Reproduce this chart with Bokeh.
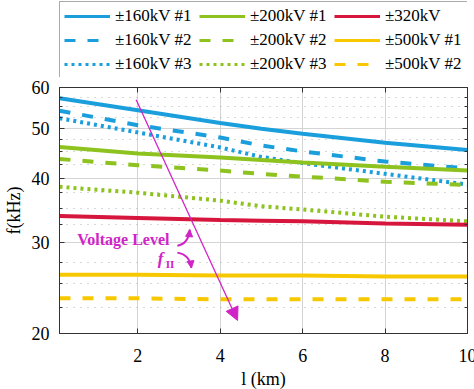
from bokeh.plotting import figure
from bokeh.layouts import column
from bokeh.models import (FixedTicker, Legend, LegendItem, LinearAxis, LogAxis, Arrow,
                          NormalHead, Range1d, BasicTickFormatter)
from bokeh.core.properties import value
from bokeh.embed import file_html
from bokeh.resources import INLINE

# ---- data ----
l_km = [0.1, 2, 4, 5, 6, 8, 10]
f_160_1 = [57.2, 54.2, 51.2, 49.9, 48.8, 46.9, 45.4]
f_160_2 = [54.1, 50.7, 48.0, 46.3, 45.1, 43.1, 41.8]
f_160_3 = [52.3, 49.1, 45.9, 44.0, 42.8, 40.8, 38.9]
f_200_1 = [46.0, 44.7, 43.9, 43.4, 42.9, 42.1, 41.4]
f_200_2 = [43.6, 42.4, 41.4, 40.8, 40.3, 39.4, 38.8]
f_200_3 = [38.5, 37.5, 36.2, 35.3, 34.8, 33.7, 33.0]
f_320 = [33.8, 33.5, 33.2, 33.1, 33.0, 32.7, 32.5]
f_500_1 = [26.0, 26.0, 25.9, 25.9, 25.9, 25.8, 25.8]
f_500_2 = [23.4, 23.4, 23.3, 23.3, 23.3, 23.3, 23.3]

series_names = ["±160kV #1", "±160kV #2", "±160kV #3",
                "±200kV #1", "±200kV #2", "±200kV #3",
                "±320kV", "±500kV #1", "±500kV #2"]
series_values = [f_160_1, f_160_2, f_160_3, f_200_1, f_200_2, f_200_3,
                 f_320, f_500_1, f_500_2]

x_ticks = [2, 4, 6, 8, 10]
y_major = [20, 30, 40, 50, 60]
y_minor = [22.5, 25, 27.5, 32.5, 35, 37.5, 42.5, 45, 47.5, 52.5, 55, 57.5]

# annotation anchors (data coordinates)
trend_l = [1.96, 4.42]
trend_f = [56.8, 21.2]
note_text = "Voltage Level"
note_pos = (1.65, 30.5)
fii_pos = (2.55, 27.9)
sub_pos = (2.78, 27.3)
curve_up = dict(x0=2.96, y0=29.6, cx=3.23, cy=29.85, x1=3.26, y1=31.8)
curve_dn = dict(x0=2.96, y0=28.7, cx=3.26, cy=28.45, x1=3.30, y1=26.8)

# ---- styles ----
BLUE = "#1b9fdc"
GREEN = "#8dc21f"
RED = "#d6163c"
YELLOW = "#f7c800"
MAG = "#d024c6"
colors = [BLUE, BLUE, BLUE, GREEN, GREEN, GREEN, RED, YELLOW, YELLOW]
dashes = ["solid", "11 12", "3 4", "solid", "11 12", "3 4", "solid", "solid", "11 12"]
FONT = "Liberation Serif"

# ---------------- main plot ----------------
p = figure(frame_width=408, frame_height=246, output_backend="svg", toolbar_location=None,
           y_axis_type="log", x_range=Range1d(0.1, 10), y_range=Range1d(20, 60),
           min_border_left=55, min_border_right=11, min_border_top=10, min_border_bottom=56)
p.outline_line_color = "#333333"

for vals, c, d in zip(series_values, colors, dashes):
    p.line(l_km, vals, line_color=c, line_width=4, line_dash=d, line_cap="butt")

yt = FixedTicker(ticks=y_major, minor_ticks=y_minor)
xt = FixedTicker(ticks=x_ticks, minor_ticks=[])
p.yaxis.ticker = yt
p.yaxis.formatter = BasicTickFormatter()
p.xaxis.ticker = xt
p.ygrid.ticker = yt
p.xgrid.ticker = xt

for ax in (p.xaxis[0], p.yaxis[0]):
    ax.axis_line_color = "#333333"
    ax.major_tick_line_color = "#333333"
    ax.minor_tick_line_color = "#333333"
    ax.major_tick_in = 5
    ax.major_tick_out = 0
    ax.minor_tick_in = 3
    ax.minor_tick_out = 0
    ax.major_label_text_font = FONT
    ax.major_label_text_font_size = "18px"
    ax.major_label_text_color = "black"
    ax.axis_label_text_font = FONT
    ax.axis_label_text_font_size = "18px"
    ax.axis_label_text_font_style = "normal"
    ax.axis_label_text_color = "black"

p.xaxis.axis_label = "l (km)"
p.yaxis.axis_label = "f(kHz)"
p.xaxis.major_label_standoff = 15
p.xaxis.axis_label_standoff = 4
p.yaxis.major_label_standoff = 10
p.yaxis.axis_label_standoff = 5

top_ax = LinearAxis(ticker=xt, major_label_text_font_size="0px", major_tick_in=5,
                    major_tick_out=0, minor_tick_out=0, major_label_standoff=0,
                    axis_line_color="#333333", major_tick_line_color="#333333")
right_ax = LogAxis(ticker=yt, major_label_text_font_size="0px", major_tick_in=5,
                   major_tick_out=0, minor_tick_in=3, minor_tick_out=0,
                   major_label_standoff=0, axis_line_color="#333333",
                   major_tick_line_color="#333333", minor_tick_line_color="#333333")
p.add_layout(top_ax, "above")
p.add_layout(right_ax, "right")

p.xgrid.grid_line_color = "#d4d4d4"
p.ygrid.grid_line_color = "#d4d4d4"
p.ygrid.minor_grid_line_color = "#b0b0b0"
p.ygrid.minor_grid_line_dash = "1 6"
p.ygrid.minor_grid_line_width = 1.2

p.add_layout(Arrow(end=NormalHead(size=13, fill_color=MAG, line_color=MAG),
                   x_start=trend_l[0], y_start=trend_f[0], x_end=trend_l[1], y_end=trend_f[1],
                   line_color=MAG, line_width=1.3))
for cv in (curve_up, curve_dn):
    p.quadratic(x0=[cv["x0"]], y0=[cv["y0"]], x1=[cv["x1"]], y1=[cv["y1"]],
                cx=[cv["cx"]], cy=[cv["cy"]], line_color=MAG, line_width=2)
    p.add_layout(Arrow(end=NormalHead(size=7, fill_color=MAG, line_color=MAG),
                       x_start=cv["cx"], y_start=cv["cy"], x_end=cv["x1"], y_end=cv["y1"],
                       line_color=None))

p.text(x=[note_pos[0]], y=[note_pos[1]], text=[note_text], text_font=value(FONT),
       text_font_style="bold", text_font_size="16px", text_color=MAG,
       text_align="center", text_baseline="middle")
p.text(x=[fii_pos[0]], y=[fii_pos[1]], text=["f"], text_font=value(FONT),
       text_font_style="bold italic", text_font_size="17px", text_color=MAG,
       text_align="center", text_baseline="middle")
p.text(x=[sub_pos[0]], y=[sub_pos[1]], text=["II"], text_font=value(FONT),
       text_font_style="bold", text_font_size="11px", text_color=MAG,
       text_align="center", text_baseline="middle")

# ---------------- legend strip (same series, drawn out of view) ----------------
lg = figure(frame_width=408, frame_height=76, output_backend="svg", toolbar_location=None,
            x_range=Range1d(0.1, 10), y_range=Range1d(0, 1),
            min_border_left=55, min_border_right=11, min_border_top=1, min_border_bottom=0)
lg.axis.visible = False
lg.grid.visible = False
lg.outline_line_color = None
lrs = []
for vals, c, d in zip(series_values, colors, dashes):
    lrs.append(lg.line(l_km, vals, line_color=c, line_width=3, line_dash=d, line_cap="butt"))

items = [LegendItem(label=n, renderers=[r]) for n, r in zip(series_names, lrs)]
legend = Legend(items=items, nrows=3, orientation="vertical", location="top_left",
                label_text_font=FONT, label_text_font_size="17px", label_text_color="black",
                glyph_width=46, glyph_height=18, label_height=18, label_width=80,
                label_standoff=5, spacing=4, padding=4, margin=0,
                border_line_color="#555555", border_line_width=1.2,
                background_fill_color="white", background_fill_alpha=1.0)
lg.add_layout(legend, "center")

layout = column(lg, p, spacing=0)
open("out.html", "w").write(file_html(layout, INLINE))
